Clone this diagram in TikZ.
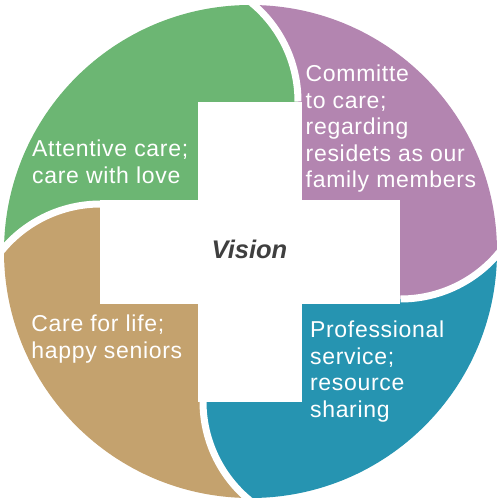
\documentclass[tikz,border=0pt]{standalone}
\usepackage{fontspec}
\setmainfont{Liberation Sans}
\newfontfamily\bodyfont[LetterSpace=3]{Liberation Sans}
\definecolor{cgreen}{HTML}{6CB673}
\definecolor{cpurple}{HTML}{B385B0}
\definecolor{cteal}{HTML}{2694B1}
\definecolor{ctan}{HTML}{C4A26E}
\definecolor{cgray}{HTML}{3F3F3F}
\newcommand\quadrantpath{(0,0) -- (47.5,150) arc[start angle=0,end angle=70,radius=128] -- (-300,300) -- (-270.28,-36.72) arc[start angle=160,end angle=90,radius=128] -- cycle}
\begin{document}
\begin{tikzpicture}[x=1pt,y=1pt,
  blocktext/.style={anchor=north west,inner sep=0pt,align=left,text=white,
    font=\bodyfont\fontsize{23}{26.4}\selectfont},
  gap/.style={draw=white,line width=7pt}]
\useasboundingbox (-250.5,-252.5) rectangle (249.5,251.5);
\begin{scope}
  \clip (0,0) circle (246.5);
  \fill[cgreen] \quadrantpath;
  \begin{scope}[rotate=-90]\fill[cpurple] \quadrantpath;\end{scope}
  \begin{scope}[rotate=-180]\fill[cteal] \quadrantpath;\end{scope}
  \begin{scope}[rotate=-270]\fill[ctan] \quadrantpath;\end{scope}
\end{scope}
\fill[white] (-52,-150) rectangle (52,150);
\fill[white] (-150,-52) rectangle (150,52);
\foreach \r in {0,-90,-180,-270}{
  \begin{scope}[rotate=\r]
    \path[gap] (47.5,150) arc[start angle=0,end angle=60,radius=128];
  \end{scope}
}
\node[blocktext] (green) at (-218.5,113.3) {\strut Attentive care;\\care with love};
\node[blocktext] (purple) at (55,188.3) {\strut Committe\\to care;\\regarding\\residets as our\\family members};
\node[blocktext] (tan) at (-219.3,-61.7) {\strut Care for life;\\happy seniors};
\node[blocktext] (teal) at (59.4,-67.7) {\strut Professional\\service;\\resource\\sharing};
\node[anchor=base,inner sep=0pt,text=cgray,font=\bfseries\itshape\fontsize{25.5}{30}\selectfont] (vision) at (-1,-6.8) {Vision};
\end{tikzpicture}
\end{document}
